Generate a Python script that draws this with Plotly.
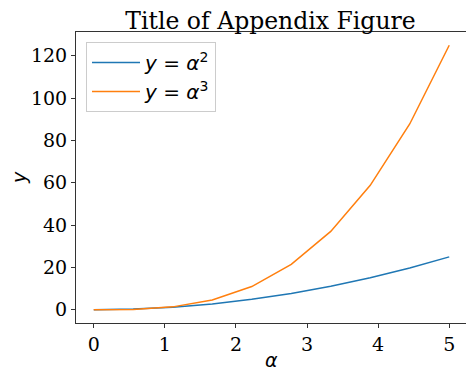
import plotly.graph_objects as go

alpha = [0.0, 0.5556, 1.1111, 1.6667, 2.2222, 2.7778, 3.3333, 3.8889, 4.4444, 5.0]
y_sq = [0.0, 0.309, 1.235, 2.778, 4.938, 7.716, 11.111, 15.123, 19.753, 25.0]
y_cu = [0.0, 0.171, 1.372, 4.630, 10.974, 21.433, 37.037, 58.813, 87.791, 125.0]
x_ticks = [0, 1, 2, 3, 4, 5]
y_ticks = [0, 20, 40, 60, 80, 100, 120]

fig = go.Figure()
fig.add_trace(go.Scatter(x=alpha, y=y_sq, mode="lines", line=dict(color="#1f77b4", width=1.5),
                         legendgroup="a", name="<i>y</i> = <i>α</i><sup>2</sup>"))
fig.add_trace(go.Scatter(x=alpha, y=y_cu, mode="lines", line=dict(color="#ff7f0e", width=1.5),
                         legendgroup="b", name="<i>y</i> = <i>α</i><sup>3</sup>"))

axis_common = dict(showgrid=False, zeroline=False, showline=True, mirror=True,
                   linecolor="#333333", linewidth=1, ticks="outside", ticklen=4,
                   tickcolor="#333333", tickwidth=1, automargin=False,
                   tickfont=dict(family="DejaVu Serif", size=19, color="black"))

# The page body adds an 8px offset, so the figure is 8px smaller on each axis
W, H = 466, 371
L, R, T, B = 68, 7, 24, 56
PW, PH = W - L - R, H - T - B
label_font = dict(family="DejaVu Sans", size=19, color="black")

fig.update_layout(
    width=W, height=H,
    margin=dict(l=L, r=R, t=T, b=B, autoexpand=False),
    paper_bgcolor="white", plot_bgcolor="white",
    title=dict(text="Title of Appendix Figure", x=262.5 / W, xanchor="center",
               y=1 - 12.5 / H, yanchor="middle",
               font=dict(family="DejaVu Serif", size=23.5, color="black")),
    xaxis=dict(range=[-0.25, 5.25], tickvals=x_ticks, **axis_common),
    yaxis=dict(range=[-6.25, 131.25], tickvals=y_ticks, **axis_common),
    annotations=[
        dict(text="<i>α</i>", xref="paper", yref="paper", x=0.5, y=(PH - (352 - T)) / PH,
             xanchor="center", yanchor="middle", showarrow=False, font=label_font),
        dict(text="<i>y</i>", xref="paper", yref="paper", x=(11 - L) / PW, y=(PH - (169 - T)) / PH,
             xanchor="center", yanchor="middle", showarrow=False, textangle=-90, font=label_font),
    ],
    legend=dict(x=0.0256, y=0.966, xanchor="left", yanchor="top",
                bgcolor="rgba(255,255,255,0.8)", bordercolor="#cccccc", borderwidth=1,
                font=dict(family="DejaVu Sans", size=20, color="black"),
                itemwidth=48, tracegroupgap=10, traceorder="normal"),
    showlegend=True,
)

fig.write_html("out.html")
